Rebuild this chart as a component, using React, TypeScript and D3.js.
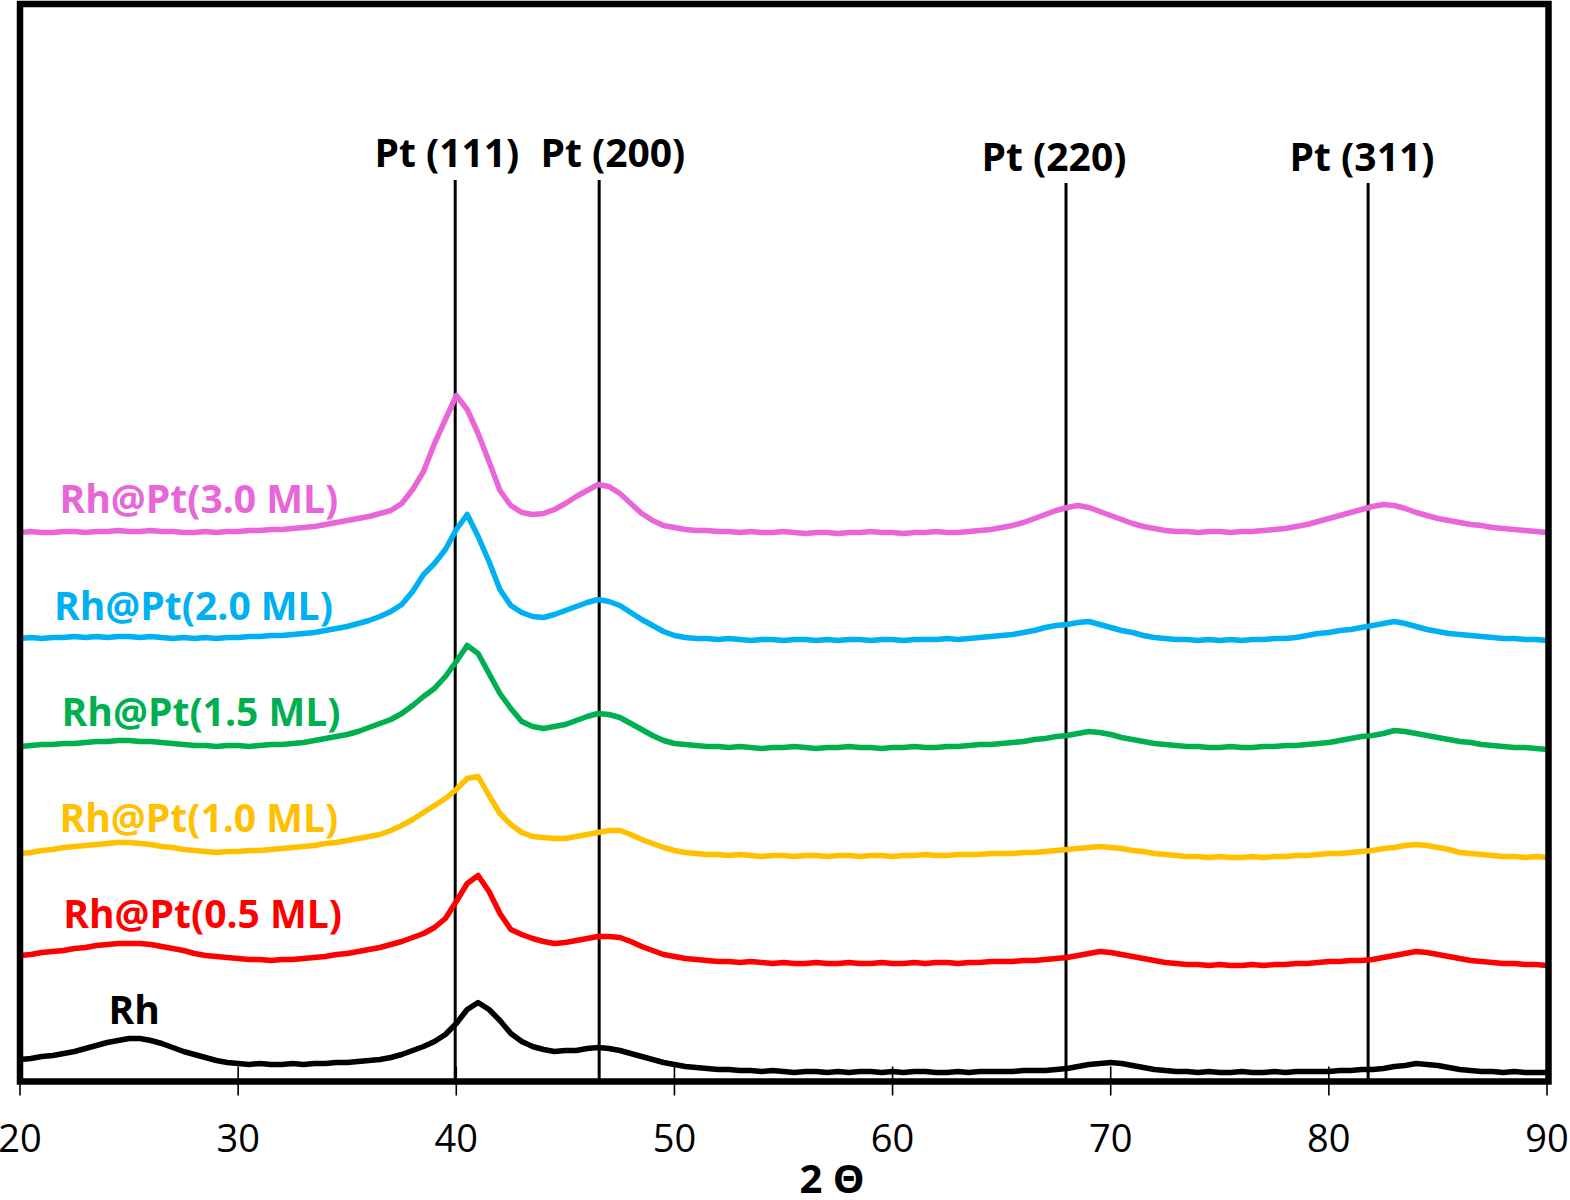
import * as d3 from 'd3';

// 2θ sampling grid (0.5° steps, 20–90°)
const twoTheta = d3.range(0, 141).map(i => 20 + i * 0.5);

// stacked intensities (a.u.), one row per 5°
const rh = [
  22, 23, 25, 26, 28, 30, 33, 36, 39, 41,
  43, 43, 41, 38, 34, 30, 27, 24, 21, 19,
  18, 17, 18, 17, 17, 18, 17, 18, 18, 19,
  19, 20, 21, 22, 24, 27, 31, 35, 40, 47,
  58, 72, 79, 72, 61, 48, 40, 35, 32, 30,
  31, 31, 33, 34, 33, 31, 28, 25, 22, 19,
  17, 15, 14, 13, 12, 12, 11, 11, 10, 11,
  10, 9, 10, 10, 9, 10, 9, 10, 10, 9,
  10, 9, 10, 10, 9, 9, 10, 9, 10, 10,
  10, 10, 11, 11, 11, 12, 13, 15, 17, 18,
  19, 18, 16, 14, 12, 11, 10, 10, 9, 10,
  9, 9, 10, 9, 9, 10, 9, 10, 10, 10,
  10, 11, 11, 12, 12, 13, 15, 16, 18, 17,
  16, 14, 12, 11, 10, 10, 9, 10, 9, 9,
  9,
];

const pt05 = [
  126, 127, 129, 130, 131, 133, 134, 136, 137, 138,
  138, 138, 137, 135, 133, 131, 128, 126, 125, 124,
  123, 122, 122, 121, 122, 122, 123, 124, 125, 127,
  128, 130, 132, 134, 137, 140, 144, 148, 154, 163,
  180, 198, 206, 190, 168, 152, 147, 143, 140, 138,
  139, 141, 143, 145, 145, 144, 140, 135, 131, 127,
  125, 123, 122, 121, 120, 120, 119, 120, 119, 118,
  119, 118, 118, 119, 118, 118, 119, 118, 118, 119,
  118, 118, 119, 118, 119, 119, 118, 119, 119, 120,
  120, 120, 121, 121, 122, 123, 124, 126, 128, 130,
  129, 127, 125, 123, 121, 119, 118, 117, 117, 116,
  117, 116, 116, 117, 116, 117, 117, 118, 118, 119,
  120, 120, 121, 121, 122, 124, 126, 128, 130, 129,
  127, 125, 123, 121, 120, 119, 118, 118, 117, 117,
  116,
];

const pt10 = [
  228, 229, 231, 232, 234, 235, 236, 237, 238, 239,
  239, 238, 237, 235, 234, 232, 231, 230, 229, 230,
  230, 231, 231, 232, 233, 234, 235, 236, 238, 239,
  241, 243, 245, 247, 251, 256, 262, 269, 276, 283,
  292, 303, 305, 286, 268, 257, 249, 245, 244, 243,
  243, 245, 247, 249, 251, 251, 247, 242, 238, 234,
  231, 229, 228, 227, 227, 226, 227, 226, 225, 226,
  226, 225, 226, 226, 225, 226, 226, 225, 226, 226,
  225, 226, 226, 227, 226, 226, 227, 227, 227, 228,
  228, 228, 229, 229, 230, 231, 232, 233, 234, 235,
  234, 233, 231, 230, 228, 227, 226, 225, 225, 224,
  225, 224, 224, 225, 224, 225, 225, 226, 226, 227,
  228, 228, 229, 230, 231, 233, 234, 236, 237, 236,
  234, 232, 229, 228, 227, 226, 225, 225, 224, 225,
  224,
];

const pt15 = [
  335, 336, 337, 337, 338, 338, 339, 340, 340, 341,
  341, 340, 340, 339, 338, 337, 336, 336, 335, 336,
  336, 335, 336, 337, 337, 338, 339, 341, 343, 345,
  347, 350, 354, 358, 362, 368, 376, 385, 393, 405,
  420, 436, 428, 408, 388, 373, 360, 355, 353, 355,
  357, 361, 365, 368, 367, 364, 358, 352, 346, 341,
  338, 337, 336, 335, 335, 334, 335, 334, 333, 334,
  334, 335, 334, 333, 334, 334, 335, 334, 334, 333,
  334, 334, 335, 334, 334, 335, 335, 336, 337, 337,
  338, 339, 340, 342, 343, 345, 346, 348, 350, 349,
  347, 344, 342, 340, 338, 337, 336, 335, 335, 334,
  334, 335, 334, 334, 335, 335, 336, 336, 337, 338,
  339, 341, 343, 345, 346, 348, 351, 350, 348, 346,
  344, 342, 340, 339, 337, 336, 335, 334, 334, 333,
  332,
];

const pt20 = [
  443, 444, 443, 444, 444, 445, 444, 445, 444, 445,
  445, 444, 445, 444, 443, 444, 443, 444, 443, 444,
  444, 445, 445, 446, 446, 447, 448, 449, 451, 453,
  455, 458, 461, 465, 470, 477, 490, 507, 518, 532,
  552, 567, 545, 520, 492, 476, 469, 465, 464, 467,
  471, 475, 479, 482, 480, 476, 469, 462, 456, 450,
  446, 444, 443, 443, 442, 443, 442, 441, 442, 442,
  441, 442, 442, 441, 442, 441, 442, 442, 441, 442,
  442, 441, 442, 442, 442, 443, 442, 443, 444, 445,
  446, 447, 449, 451, 454, 456, 457, 459, 460, 457,
  454, 451, 449, 446, 444, 443, 442, 442, 441, 442,
  441, 442, 441, 442, 442, 443, 443, 444, 446, 448,
  449, 451, 452, 454, 456, 458, 460, 458, 455, 452,
  450, 448, 447, 446, 445, 444, 443, 443, 442, 442,
  441,
];

const pt30 = [
  549, 550, 549, 549, 550, 550, 549, 550, 550, 551,
  550, 550, 551, 550, 550, 549, 549, 550, 549, 550,
  550, 551, 551, 552, 552, 553, 554, 555, 557, 559,
  561, 563, 565, 568, 571, 578, 592, 610, 638, 662,
  686, 672, 648, 620, 591, 576, 569, 567, 568, 572,
  578, 585, 591, 597, 595, 588, 578, 568, 561, 556,
  554, 552, 551, 551, 550, 550, 549, 550, 549, 549,
  550, 549, 548, 549, 549, 548, 549, 549, 550, 549,
  549, 548, 549, 549, 550, 549, 549, 550, 551, 552,
  554, 556, 559, 563, 567, 571, 574, 576, 574, 570,
  566, 562, 558, 555, 553, 551, 550, 550, 549, 550,
  550, 549, 550, 550, 551, 552, 553, 555, 557, 560,
  563, 566, 569, 572, 575, 577, 576, 573, 569, 566,
  563, 561, 559, 557, 556, 554, 553, 552, 551, 550,
  549,
];

const seriesNames = ['Rh', 'Rh@Pt(0.5 ML)', 'Rh@Pt(1.0 ML)', 'Rh@Pt(1.5 ML)', 'Rh@Pt(2.0 ML)', 'Rh@Pt(3.0 ML)'];
const seriesValues = [rh, pt05, pt10, pt15, pt20, pt30];
const seriesColors = ['#000000', '#FF0000', '#FFC000', '#00B050', '#00B0F0', '#E866D8'];
// where each name sits, in (2θ, intensity)
const labelTheta = [25.23, 28.37, 28.2, 28.3, 27.95, 28.2];
const labelLevel = [57.5, 153.5, 249.5, 355.5, 461.5, 568.5];

// Pt reference reflections
const peakNames = ['Pt (111)', 'Pt (200)', 'Pt (220)', 'Pt (311)'];
const peakTheta = [39.95, 46.55, 67.95, 81.8];
const peakLabelTheta = [39.57, 47.18, 67.4, 81.52];
const peakLabelLevel = [914.5, 914.5, 910.5, 910.5];
const peakLineTop = [901.5, 901.5, 898.5, 898.5];

const xTicks = [20, 30, 40, 50, 60, 70, 80, 90];

const W = 1570, H = 1200;
const left = 20, right = 1547, top = 4, bottom = 1081.5;

export default function App() {
  const x = d3.scaleLinear().domain([20, 90]).range([left, right]);
  const y = d3.scaleLinear().domain([0, bottom - top]).range([bottom, top]);

  const line = d3.line<number>()
    .x((_, i) => x(twoTheta[i]))
    .y(d => y(d));

  return (
    <svg width={W} height={H} style={{ position: 'absolute', left: 0, top: 0, background: '#fff' }}
      fontFamily="'Open Sans', sans-serif">
      {/* x tick marks crossing the bottom axis */}
      {xTicks.map(t => (
        <line key={t} x1={x(t)} x2={x(t)} y1={bottom - 15} y2={bottom + 14} stroke="#000" strokeWidth={1.6} />
      ))}
      {xTicks.map(t => (
        <text key={'l' + t} x={x(t)} y={1152} textAnchor="middle" fontSize={38} fill="#000">{t}</text>
      ))}
      <text x={832} y={1193} textAnchor="middle" fontSize={40} fontWeight="bold" fill="#000">2 Θ</text>

      {/* reference lines */}
      {peakTheta.map((t, i) => (
        <line key={'p' + i} x1={x(t)} x2={x(t)} y1={y(peakLineTop[i])} y2={bottom} stroke="#000" strokeWidth={3} />
      ))}
      {peakNames.map((n, i) => (
        <text key={'pn' + i} x={x(peakLabelTheta[i])} y={y(peakLabelLevel[i])} textAnchor="middle"
          fontSize={39} fontWeight="bold" fill="#000">{n}</text>
      ))}

      {/* diffraction patterns */}
      {seriesValues.map((vals, i) => (
        <path key={'s' + i} d={line(vals) ?? ''} fill="none" stroke={seriesColors[i]}
          strokeWidth={5.5} strokeLinejoin="round" strokeLinecap="round" />
      ))}
      {seriesNames.map((n, i) => (
        <text key={'sn' + i} x={x(labelTheta[i])} y={y(labelLevel[i])} textAnchor="middle"
          fontSize={39} fontWeight="bold" fill={seriesColors[i]}>{n}</text>
      ))}

      <rect x={left} y={top} width={1548.5 - left} height={bottom - top} fill="none" stroke="#000" strokeWidth={6.5} />
    </svg>
  );
}
